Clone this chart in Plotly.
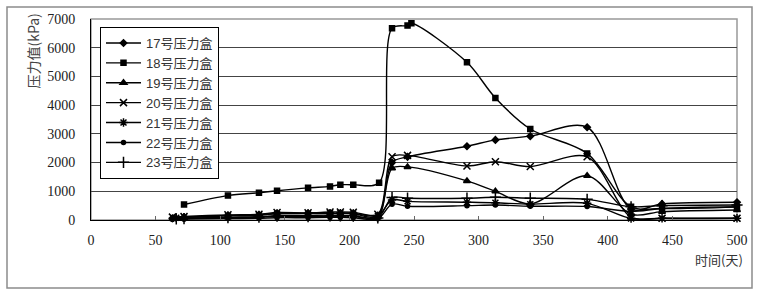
import plotly.graph_objects as go

# ---- data ----
series_names = ["17号压力盒", "18号压力盒", "19号压力盒", "20号压力盒",
                "21号压力盒", "22号压力盒", "23号压力盒"]

days_17 = [63, 72, 106, 130, 144, 168, 185, 193, 203, 222, 233, 245, 291, 313, 340, 384, 418, 442, 500]
vals_17 = [60, 80, 150, 170, 230, 230, 230, 230, 220, 130, 2000, 2200, 2570, 2790, 2920, 3230, 380, 560, 620]

days_18 = [72, 106, 130, 144, 168, 185, 193, 203, 223, 233, 245, 248, 291, 313, 340, 384, 418, 442, 500]
vals_18 = [540, 850, 950, 1020, 1120, 1170, 1230, 1230, 1300, 6680, 6770, 6850, 5490, 4250, 3170, 2320, 460, 400, 450]

days_19 = [66, 72, 106, 130, 144, 168, 185, 193, 203, 222, 233, 245, 291, 313, 340, 384, 418, 442, 500]
vals_19 = [50, 60, 100, 120, 150, 160, 170, 160, 150, 100, 1800, 1850, 1360, 1000, 560, 1540, 200, 290, 350]

days_20 = [63, 72, 106, 130, 144, 168, 185, 193, 203, 222, 233, 245, 291, 313, 340, 384, 418, 442, 500]
vals_20 = [100, 120, 180, 200, 260, 250, 280, 280, 270, 200, 2200, 2250, 1880, 2030, 1860, 2200, 100, 60, 60]

days_21 = [66, 72, 106, 130, 144, 168, 185, 193, 203, 222, 233, 245, 291, 313, 340, 384, 418, 442, 500]
vals_21 = [80, 100, 160, 180, 220, 230, 240, 240, 230, 150, 700, 650, 620, 600, 550, 580, 50, 60, 60]

days_22 = [63, 72, 106, 130, 144, 168, 185, 193, 203, 222, 233, 245, 291, 313, 340, 384, 418, 442, 500]
vals_22 = [20, 30, 50, 60, 80, 80, 90, 90, 80, 40, 550, 480, 500, 520, 480, 470, 300, 400, 460]

days_23 = [66, 72, 106, 130, 144, 168, 185, 193, 203, 222, 233, 245, 291, 313, 340, 384, 418, 442, 500]
vals_23 = [40, 50, 80, 100, 130, 120, 140, 140, 130, 70, 780, 760, 760, 790, 760, 720, 460, 500, 520]

x_ticks = [0, 50, 100, 150, 200, 250, 300, 350, 400, 450, 500]
y_ticks = [0, 1000, 2000, 3000, 4000, 5000, 6000, 7000]

x_title = "时间(天)"
y_title = "压力值(kPa)"

# ---- styling ----
all_days = [days_17, days_18, days_19, days_20, days_21, days_22, days_23]
all_vals = [vals_17, vals_18, vals_19, vals_20, vals_21, vals_22, vals_23]
symbols = ["diamond", "square", "triangle-up", "x-thin-open", "asterisk-open", "circle", "cross-thin-open"]
sizes = [5, 5, 6, 7, 7, 4, 8]

fig = go.Figure()
for name, d, v, sym, sz in zip(series_names, all_days, all_vals, symbols, sizes):
    fig.add_trace(go.Scatter(
        x=d, y=v, name=name, mode="lines+markers",
        line=dict(color="black", width=1.4, shape="spline", smoothing=0.9),
        marker=dict(symbol=sym, size=sz, color="black",
                    line=dict(color="black", width=1.5)),
        cliponaxis=False,
    ))

W, H = 760, 296
L, R, T, B = 91, 23, 19, 76
pw, ph = W - L - R, H - T - B

def px(xpix):
    return (xpix - L) / pw

def py(ypix):
    return (H - B - ypix) / ph

tick_font = dict(family="Liberation Serif, DejaVu Serif, serif", size=14, color="#222")

fig.update_layout(
    width=W, height=H,
    margin=dict(l=L, r=R, t=T, b=B, pad=0),
    paper_bgcolor="white", plot_bgcolor="white",
    showlegend=True,
    legend=dict(
        x=px(100), y=py(27), xanchor="left", yanchor="top",
        bgcolor="white", bordercolor="black", borderwidth=1,
        font=dict(family="Liberation Sans, Noto Sans CJK SC", size=13, color="#333"),
        tracegroupgap=0, itemwidth=35,
    ),
    xaxis=dict(
        range=[0, 500], tickvals=x_ticks, ticktext=[str(t) for t in x_ticks],
        showgrid=False, zeroline=False,
        showline=True, linecolor="black", linewidth=1,
        ticks="inside", ticklen=4, tickcolor="#666",
        tickfont=tick_font, ticklabelstandoff=7,
    ),
    yaxis=dict(
        range=[0, 7000], tickvals=y_ticks, ticktext=[str(t) for t in y_ticks],
        showgrid=True, gridcolor="#444", gridwidth=1, zeroline=False,
        showline=True, linecolor="black", linewidth=1,
        ticks="", tickfont=tick_font, ticklabelstandoff=12,
    ),
    shapes=[
        dict(type="rect", xref="paper", yref="paper",
             x0=px(7), x1=px(752), y0=py(288), y1=py(7),
             line=dict(color="#8c8c8c", width=1.5), fillcolor="rgba(0,0,0,0)", layer="below"),
        dict(type="rect", xref="paper", yref="paper",
             x0=0, x1=1, y0=0, y1=1,
             line=dict(color="#999", width=1.5), fillcolor="rgba(0,0,0,0)", layer="below"),
    ],
    annotations=[
        dict(text=y_title, xref="paper", yref="paper", x=px(32), y=py(12),
             xanchor="center", yanchor="top", textangle=-90, showarrow=False,
             font=dict(family="Noto Sans CJK SC", size=14, color="#444")),
        dict(text=x_title, xref="paper", yref="paper", x=px(745), y=py(259),
             xanchor="right", yanchor="middle", showarrow=False,
             font=dict(family="Noto Sans CJK SC", size=13, color="#333")),
    ],
)

fig.write_html("out.html")
